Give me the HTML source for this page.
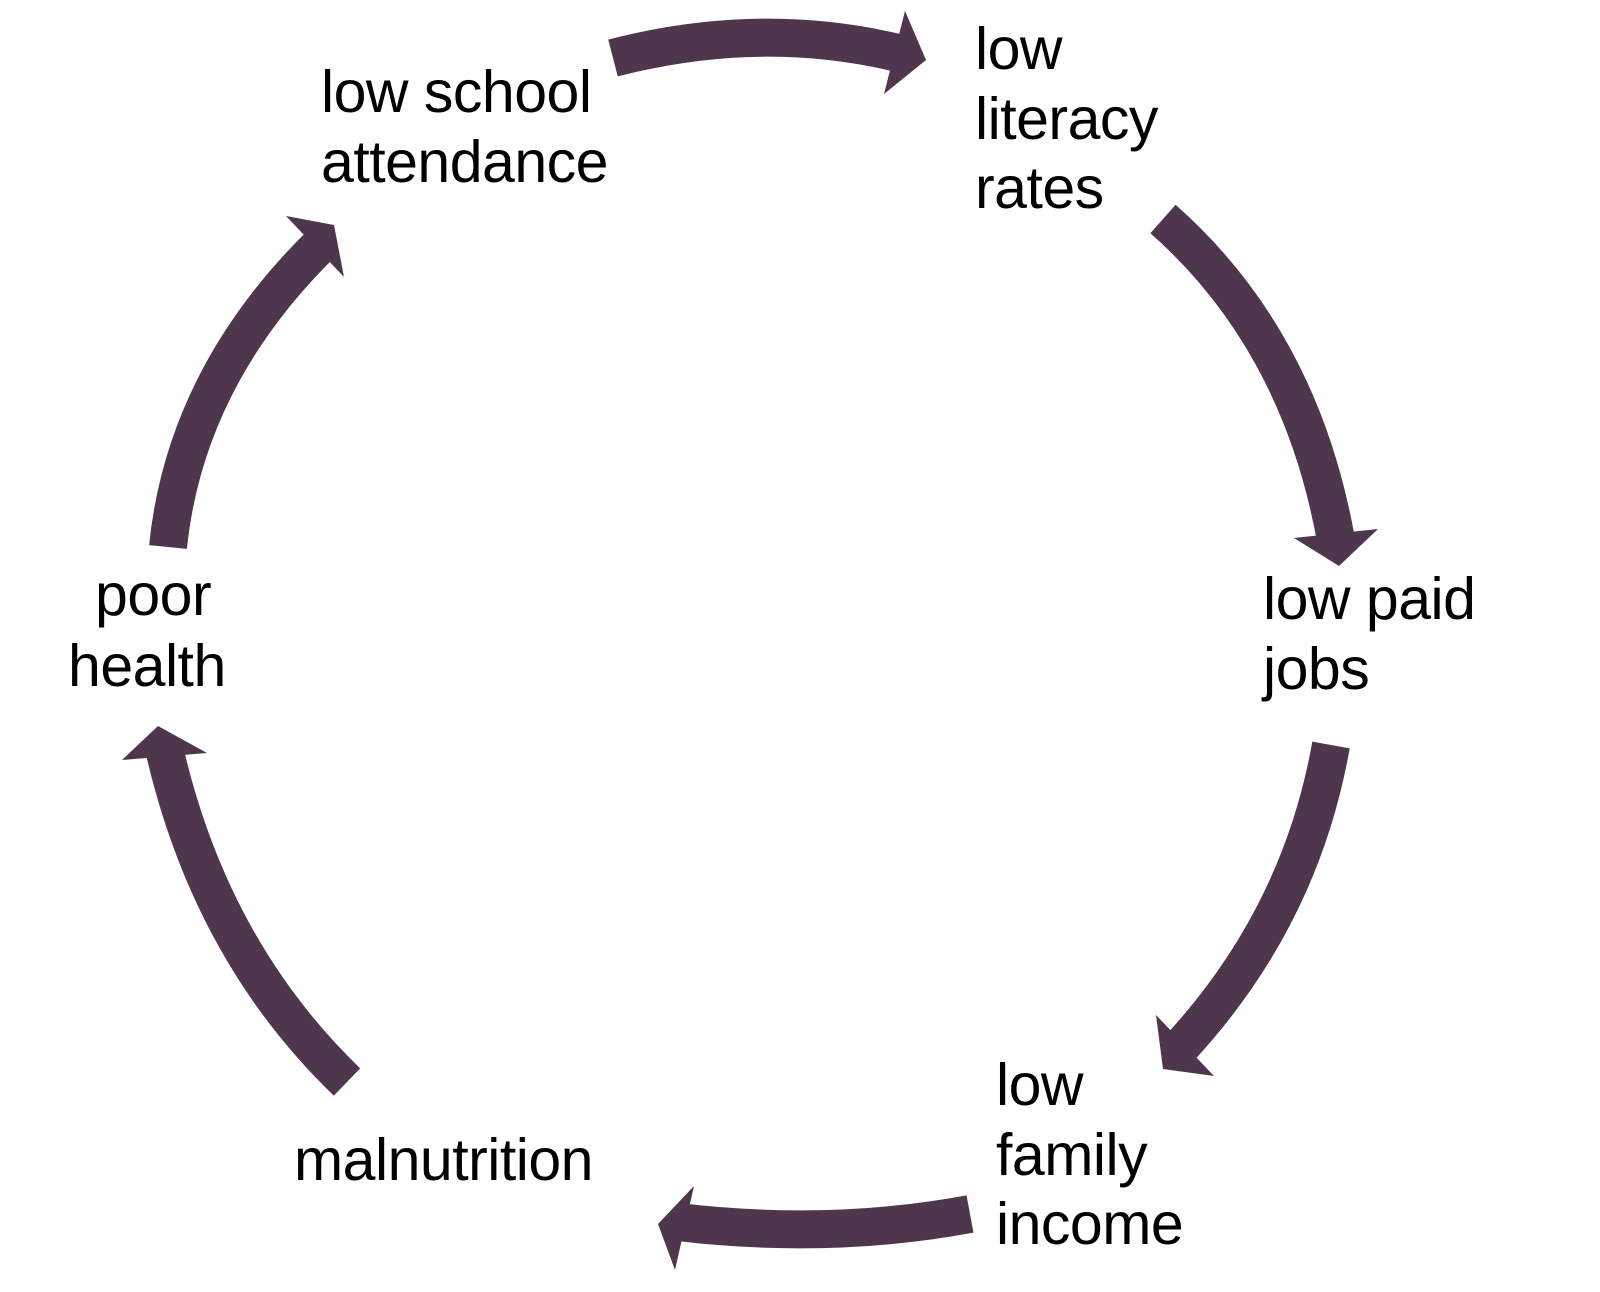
<!DOCTYPE html>
<html><head><meta charset="utf-8"><style>html,body{margin:0;padding:0;background:#fff}svg{display:block}</style></head>
<body>
<svg width="1600" height="1292" viewBox="0 0 1600 1292" xmlns="http://www.w3.org/2000/svg">
<g fill="none" stroke="#4e364d" stroke-width="38" stroke-linecap="butt">
<path d="M613 58 Q760 20 898 53"/>
<path d="M1163 219 Q1300 340 1336 540"/>
<path d="M1331 745 Q1300 920 1176 1052"/>
<path d="M970 1214 Q830 1240 678 1222"/>
<path d="M347 1082 Q210 950 164 748"/>
<path d="M168 547 Q185 380 318 247"/>
</g>
<g fill="#4e364d">
<polygon points="905,11 926,60 884,94"/>
<polygon points="1294,538 1378,529 1339,566"/>
<polygon points="1156,1015 1163,1069 1214,1076"/>
<polygon points="694,1186 658,1224 675,1270"/>
<polygon points="158,726 122,760 207,753"/>
<polygon points="286,216 334,225 344,277"/>
</g>
<g font-family="Liberation Sans, sans-serif" font-size="59" fill="#000" letter-spacing="-0.5">
<text x="321" y="112">low school</text>
<text x="321" y="182">attendance</text>
<text x="975" y="69">low</text>
<text x="975" y="139">literacy</text>
<text x="975" y="208">rates</text>
<text x="1263" y="619">low paid</text>
<text x="1263" y="689">jobs</text>
<text x="996" y="1105">low</text>
<text x="996" y="1175">family</text>
<text x="996" y="1244">income</text>
<text x="294" y="1180">malnutrition</text>
<text x="95" y="615">poor</text>
<text x="68" y="686">health</text>
</g>
</svg>
</body></html>
